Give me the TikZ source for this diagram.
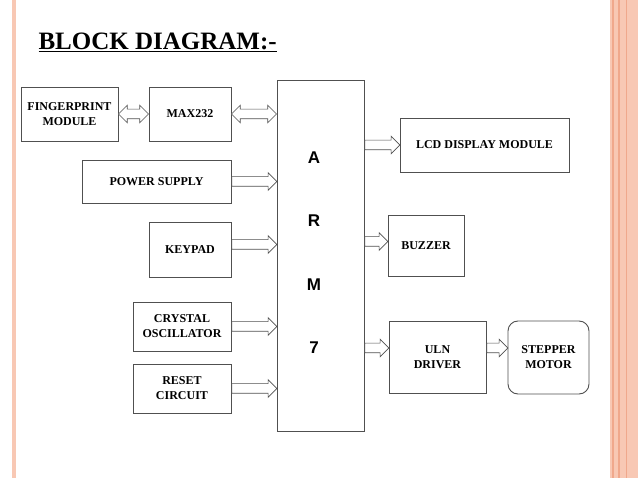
\documentclass[tikz,border=0pt]{standalone}
\usepackage{fontspec}
\setmainfont{Liberation Serif}
\newfontfamily\armfont{Liberation Sans}
\usetikzlibrary{shapes.arrows,calc}
\definecolor{peach}{HTML}{F8C8B4}
\definecolor{peachd}{HTML}{F0A88C}
\definecolor{ln}{HTML}{505050}
\tikzset{
 box/.style={draw=ln, line width=0.9pt, fill=white, align=center, font=\bfseries\fontsize{12}{15}\selectfont, inner sep=1pt},
 sa/.style={to path={let \p1=(\tikztostart),\p2=(\tikztotarget),\n1={veclen(\x2-\x1,\y2-\y1)} in
   node[single arrow, draw=ln, line width=0.6pt, fill=white, minimum height=\n1, single arrow head extend=4pt, inner xsep=0pt, inner ysep=4.5pt, anchor=tail] at (\p1) {}}},
 da/.style={to path={let \p1=(\tikztostart),\p2=(\tikztotarget),\n1={veclen(\x2-\x1,\y2-\y1)} in
   node[double arrow, draw=ln, line width=0.6pt, fill=white, minimum height=\n1, double arrow head extend=4pt, inner xsep=0pt, inner ysep=4.5pt] at ($(\p1)!0.5!(\p2)$) {}}},
 armtxt/.style={font=\armfont\bfseries\fontsize{17}{19}\selectfont}
}
\begin{document}
\begin{tikzpicture}[x=1pt,y=-1pt]
\useasboundingbox (0,0) rectangle (638,478);
\fill[white] (0,0) rectangle (638,478);
% borders
\fill[peach] (12,0) rectangle (16,478);
\fill[peach] (610,0) rectangle (638,478);
\fill[peachd] (612,0) rectangle (614,478);
\fill[peachd] (618,0) rectangle (620,478);
\fill[peachd] (626,0) rectangle (627,478);
\fill[white] (607,0) rectangle (610,478);
\node[anchor=west, font=\bfseries\fontsize{25}{28}\selectfont] (title) at (35,42) {\underline{BLOCK DIAGRAM:-}};
% boxes
\node[box, minimum width=97pt, minimum height=54pt] (fp) at (69.5,114) {FINGERPRINT\\MODULE};
\node[box, minimum width=82pt, minimum height=54pt] (mx) at (190,114) {MAX232};
\node[box, minimum width=87pt, minimum height=351pt] (arm) at (320.5,255.5) {};
\node[box, minimum width=149pt, minimum height=43pt] (ps) at (156.5,181.5) {POWER SUPPLY};
\node[box, minimum width=82pt, minimum height=55pt] (kp) at (190,249.5) {KEYPAD};
\node[box, minimum width=98pt, minimum height=49pt] (cr) at (182,326.5) {CRYSTAL\\OSCILLATOR};
\node[box, minimum width=98pt, minimum height=49pt] (rs) at (182,388.5) {RESET\\CIRCUIT};
\node[box, minimum width=169pt, minimum height=54pt] (lcd) at (484.5,145) {LCD DISPLAY MODULE};
\node[box, minimum width=76pt, minimum height=61pt] (bz) at (426,245.5) {BUZZER};
\node[box, minimum width=97pt, minimum height=72pt] (uln) at (437.5,357) {ULN\\DRIVER};
\node[box, rounded corners=10pt, minimum width=81pt, minimum height=73pt] (st) at (548.5,357.5) {STEPPER\\MOTOR};
% ARM letters
\node[armtxt] (a1) at (314,158) {A};
\node[armtxt] (a2) at (314,221) {R};
\node[armtxt] (a3) at (314,285) {M};
\node[armtxt] (a4) at (314,348) {7};
% arrows
\path (fp.east) to[da] (mx.west);
\path (mx.east) to[da] (mx.east -| arm.west);
\path (ps.east) to[sa] (ps.east -| arm.west);
\path ($(kp.east)+(0,-5)$) to[sa] ($(kp.east -| arm.west)+(0,-5)$);
\path (cr.east) to[sa] (cr.east -| arm.west);
\path (rs.east) to[sa] (rs.east -| arm.west);
\path (lcd.west -| arm.east) to[sa] (lcd.west);
\path ($(bz.west -| arm.east)+(0,-4)$) to[sa] ($(bz.west)+(0,-4)$);
\path ($(uln.west -| arm.east)+(0,-9)$) to[sa] ($(uln.west)+(0,-9)$);
\path ($(uln.east)+(0,-9)$) to[sa] ($(st.west)+(0,-9)$);
\end{tikzpicture}
\end{document}
